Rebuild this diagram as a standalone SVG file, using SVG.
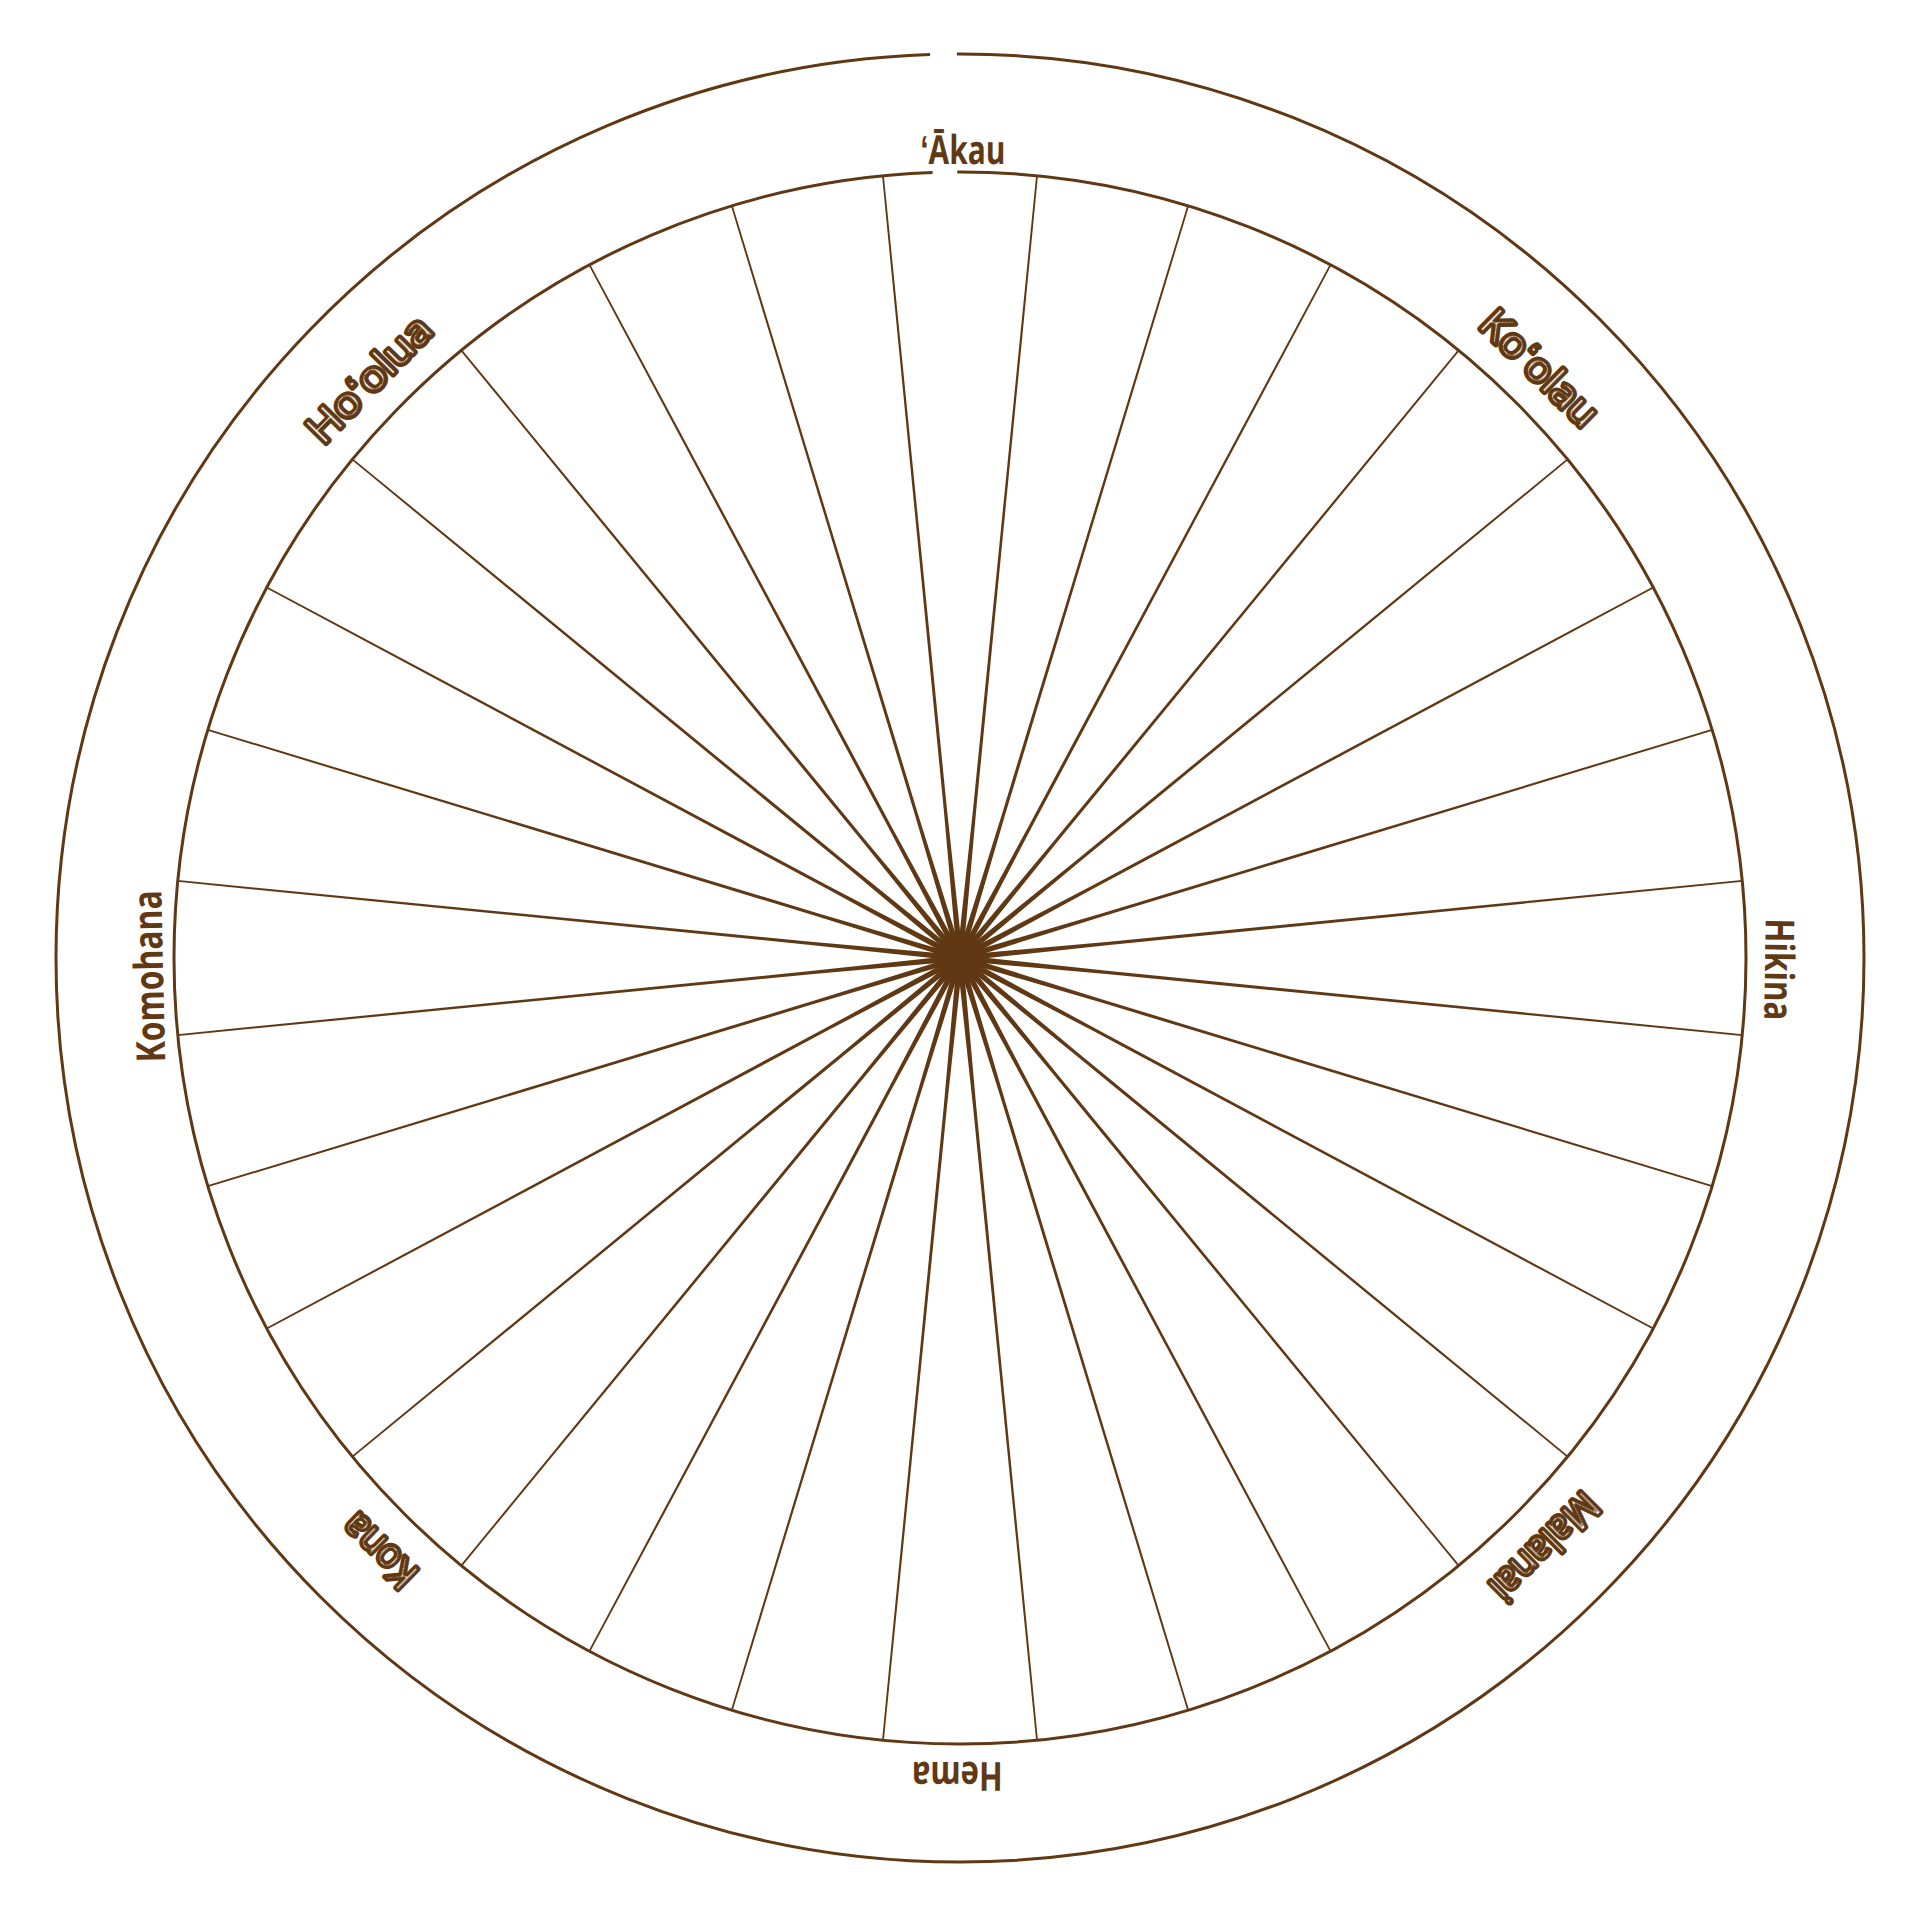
<svg xmlns="http://www.w3.org/2000/svg" xmlns:xlink="http://www.w3.org/1999/xlink" width="1920" height="1920" viewBox="0 0 1920 1920">
<style>
.ring{fill:none;stroke:#603813;stroke-width:3}
.spk{fill:#603813}
.card{font-family:"Open Sans","Liberation Sans",sans-serif;font-weight:700;font-size:40px;fill:#603813;text-anchor:middle}
.dgo{font-family:"Open Sans","Liberation Sans",sans-serif;font-weight:400;font-size:40px;fill:#603813;stroke:#603813;stroke-width:5.5;stroke-linejoin:round;stroke-linecap:round;text-anchor:middle}
.dgi{font-family:"Open Sans","Liberation Sans",sans-serif;font-weight:400;font-size:40px;fill:#ffffff;stroke:none;text-anchor:middle;filter:url(#thin)}
</style>
<defs>
<path id="sp" d="M-3,0 L-1.6,-150 L-0.9,-786 L0.9,-786 L1.6,-150 L3,0 Z"/>
<filter id="thin" x="-20%" y="-60%" width="140%" height="220%">
<feMorphology operator="erode" radius="1.35"/>
</filter>
</defs>
<rect x="0" y="0" width="1920" height="1920" fill="#ffffff"/>
<g id="rings">
<circle id="outer-ring" class="ring" cx="960" cy="958" r="904" pathLength="360" stroke-dasharray="268.1 1.7 90.2 0"/>
<circle id="inner-ring" class="ring" cx="960" cy="958" r="786" pathLength="360" stroke-dasharray="268 1.8 90.2 0"/>
</g>
<g id="connectors" class="spk" transform="translate(960 958)">
<use xlink:href="#sp" transform="rotate(5.625)"/>
<use xlink:href="#sp" transform="rotate(16.875)"/>
<use xlink:href="#sp" transform="rotate(28.125)"/>
<use xlink:href="#sp" transform="rotate(39.375)"/>
<use xlink:href="#sp" transform="rotate(50.625)"/>
<use xlink:href="#sp" transform="rotate(61.875)"/>
<use xlink:href="#sp" transform="rotate(73.125)"/>
<use xlink:href="#sp" transform="rotate(84.375)"/>
<use xlink:href="#sp" transform="rotate(95.625)"/>
<use xlink:href="#sp" transform="rotate(106.875)"/>
<use xlink:href="#sp" transform="rotate(118.125)"/>
<use xlink:href="#sp" transform="rotate(129.375)"/>
<use xlink:href="#sp" transform="rotate(140.625)"/>
<use xlink:href="#sp" transform="rotate(151.875)"/>
<use xlink:href="#sp" transform="rotate(163.125)"/>
<use xlink:href="#sp" transform="rotate(174.375)"/>
<use xlink:href="#sp" transform="rotate(185.625)"/>
<use xlink:href="#sp" transform="rotate(196.875)"/>
<use xlink:href="#sp" transform="rotate(208.125)"/>
<use xlink:href="#sp" transform="rotate(219.375)"/>
<use xlink:href="#sp" transform="rotate(230.625)"/>
<use xlink:href="#sp" transform="rotate(241.875)"/>
<use xlink:href="#sp" transform="rotate(253.125)"/>
<use xlink:href="#sp" transform="rotate(264.375)"/>
<use xlink:href="#sp" transform="rotate(275.625)"/>
<use xlink:href="#sp" transform="rotate(286.875)"/>
<use xlink:href="#sp" transform="rotate(298.125)"/>
<use xlink:href="#sp" transform="rotate(309.375)"/>
<use xlink:href="#sp" transform="rotate(320.625)"/>
<use xlink:href="#sp" transform="rotate(331.875)"/>
<use xlink:href="#sp" transform="rotate(343.125)"/>
<use xlink:href="#sp" transform="rotate(354.375)"/>
<circle cx="0" cy="0" r="14"/>
</g>
<g id="akau" transform="translate(960 958) rotate(0.2)">
<text class="card" x="0" y="-794" font-size="42" textLength="85" lengthAdjust="spacingAndGlyphs">ʻĀkau</text>
</g>
<g id="koolau" transform="translate(960 958) rotate(44.5)">
<text class="dgo" x="0" y="-813" textLength="148" lengthAdjust="spacingAndGlyphs">Koʻolau</text>
<text class="dgi" x="0" y="-813" textLength="148" lengthAdjust="spacingAndGlyphs">Koʻolau</text>
</g>
<g id="hikina" transform="translate(960 958) rotate(90.8)">
<text class="card" x="0" y="-805" textLength="102" lengthAdjust="spacingAndGlyphs">Hikina</text>
</g>
<g id="malanai" transform="translate(960 958) rotate(135.2)">
<text class="dgo" x="0" y="-816" textLength="136" lengthAdjust="spacingAndGlyphs">Malanai</text>
<text class="dgi" x="0" y="-816" textLength="136" lengthAdjust="spacingAndGlyphs">Malanai</text>
</g>
<g id="hema" transform="translate(960 958) rotate(180.2)">
<text class="card" x="0" y="-804" textLength="91" lengthAdjust="spacingAndGlyphs">Hema</text>
</g>
<g id="kona" transform="translate(960 958) rotate(224.4)">
<text class="dgo" x="0" y="-816" textLength="88" lengthAdjust="spacingAndGlyphs">Kona</text>
<text class="dgi" x="0" y="-816" textLength="88" lengthAdjust="spacingAndGlyphs">Kona</text>
</g>
<g id="komohana" transform="translate(960 958) rotate(268.7)">
<text class="card" x="0" y="-797" textLength="172" lengthAdjust="spacingAndGlyphs">Komohana</text>
</g>
<g id="hoolua" transform="translate(960 958) rotate(314.4)">
<text class="dgo" x="0" y="-813" textLength="160" lengthAdjust="spacingAndGlyphs">Hoʻolua</text>
<text class="dgi" x="0" y="-813" textLength="160" lengthAdjust="spacingAndGlyphs">Hoʻolua</text>
</g>
</svg>
